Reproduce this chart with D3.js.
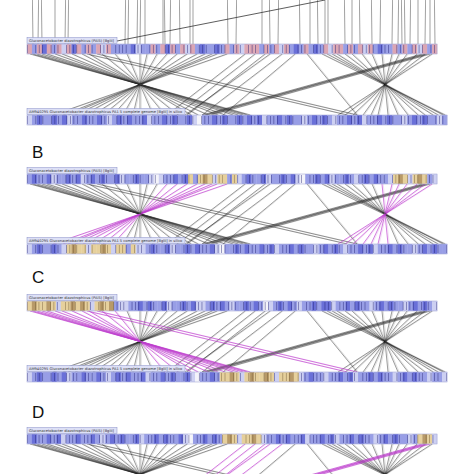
<!DOCTYPE html>
<html><head><meta charset="utf-8">
<script src="https://cdn.jsdelivr.net/npm/d3@7"></script>
<style>body{margin:0;background:#fff}</style></head>
<body><svg id="c" width="474" height="474"></svg>
<script>
const panels = ["A","B","C","D"];
const topLabel = "Gluconacetobacter diazotrophicus (PAl5) [BglII]";
const botLabel = "AM940295 Gluconacetobacter diazotrophicus PA1 5 complete genome [BglII] in silico";
const topLen = 410, botLen = 420;
const stripes = {
  A_top: "pbpBpbplpBpbpbplpbbbbBlbbpbpBpbplpbBbbBbpbplpppbpbplpbBbpbBbplppbpbplpbBbbpbpbplpbp",
  A_bot: "lbBbbBbBlbbBbbBblbBbBbbBlbbBbBbbBlwbbBbBbbBbBbBlbbBbBbblbBbBblbbBbBlbbBbBbblbBbBbblb",
  B_top: "bBbbBlbbBbBlbBbBbbBlbbBbblwlbbBbBtbtTtlttbtlbBbbBlbbBbBlwbbBbBlbbBblbBbBbbltTtltTtbl",
  B_bot: "lbBbbBbltTttlttTtlttbtllbBbbBlbbBbBbbBlwbbBbBbbBbBlbbBbBbblbBbBblbbBbBlbbBbBbblbBbBbb",
  C_top: "tTttTtlttTtTtltTtTbllbbBbBbbBlbbBbBllbBbBblbbBbBbwlbBbBblbbBbBBlbbBbBbblbBbBbblbBbBbl",
  C_bot: "lbBbbBbBlbbBbbBblbBbBbbBlbbBbBbbBlwbbBbttTtltTttTtlttTtlbBbblbbBbBlbbBbBbblbBbBbblbbl",
  D_top: "bBbbBbBlbbBbbBblbBbBbbBlbbBbBbbBlwbbBbBbtTtlttTtlbbBbBbbBlbbBbBlbbBbBbblbBbBbblbtTtl",
  D_bot: "lbBbbBbBlbbBbbBblbBbBbbBlbbBbBbbBlwbbBbBbbBbBbBlbbBbBbblbBbBblbbBbBlbbBbBbblbBbBbblb"
};
const linkTop = [3,6,10,15,20,28,35,45,55,62,75,88,100,120,130,140,150,160,170,178,185,190,200,
  295,300,305,310,318,325,335,345,355,365,372,380,390,398,405,
  395,398,400,403,243,113,60,70,268,280,218,228,238,255];
const linkBot = [223,220,216,211,206,198,191,181,171,164,151,138,126,106,96,86,76,66,56,48,41,36,26,
  418,416,411,406,398,391,381,371,361,351,344,336,326,318,311,
  175,178,180,184,158,113,320,330,196,330,140,150,160,175];
// highlighted links: [topMin, topMax, botMin, botMax]
const highlight = {A:[], B:[[138,202,0,100],[355,410,300,370]], C:[[0,92,0,420]], D:[[213,265,0,420],[394,404,170,190]]};
const aboveX = [6,11,15,28,38,41,98,101,110,113,118,136,138,143,153,163,166,201,209,235,243,251,273,283,291,298,301,318,325,333,345,353,365,371,375,378,383,391,398,403,408];
const layout = {A:{y1:44,y2:115,ly:null,bot:true}, B:{y1:174,y2:244,ly:158,bot:true}, C:{y1:301,y2:372,ly:283,bot:true}, D:{y1:434,y2:505,ly:418,bot:false}};

const colors = {B:"#6a70d8", b:"#989ee6", l:"#cdd0f2", t:"#e6d09c", T:"#b89a68", p:"#dca6b4", w:"#f4f4fa"};
const svg = d3.select("#c");
const xTop = d3.scaleLinear().domain([0, topLen]).range([27, 437]);
const xBot = d3.scaleLinear().domain([0, botLen]).range([27, 447]);
const H = 10;

const g0 = svg.append("g");
aboveX.forEach(p => g0.append("line").attr("x1", xTop(p)).attr("x2", xTop(p)+ (p%3-1)*0.6)
  .attr("y1", 44).attr("y2", 0).attr("stroke", "#222").attr("stroke-width", 0.6).attr("opacity", 0.7));
g0.append("line").attr("x1", xTop(90)).attr("y1", 41).attr("x2", xTop(298)).attr("y2", 0)
  .attr("stroke", "#333").attr("stroke-width", 0.8);

function track(g, key, x, y) {
  const s = stripes[key];
  const band = d3.scaleBand().domain(d3.range(s.length)).range(x.range());
  g.selectAll(null).data(s.split("")).join("rect")
    .attr("x", (d,i) => band(i)).attr("y", y).attr("width", band.bandwidth()+0.3).attr("height", H)
    .attr("fill", d => colors[d]);
  g.selectAll(null).data(s.split("")).join("rect")
    .attr("x", (d,i) => band(i) + band.bandwidth()*((i*37)%10)/10).attr("y", y+1)
    .attr("width", 0.7).attr("height", H-2)
    .attr("fill", d => (d==="t"||d==="T") ? "#6b5530" : "#1a1a70").attr("opacity", 0.6);
  g.append("rect").attr("x", x.range()[0]).attr("y", y).attr("width", x.range()[1]-x.range()[0]).attr("height", H)
    .attr("fill", "none").attr("stroke", "#a8acd8").attr("stroke-width", 0.6);
}
function label(g, text, x, y, w) {
  g.append("rect").attr("x", x).attr("y", y-6.5).attr("width", w).attr("height", 6)
    .attr("fill", "#dde0f6").attr("stroke", "#8890c8").attr("stroke-width", 0.5);
  g.append("text").attr("x", x+2).attr("y", y-2).attr("font-size", 3.6)
    .attr("font-family", "DejaVu Sans").attr("fill", "#333").text(text);
}

panels.forEach(p => {
  const L = layout[p];
  const g = svg.append("g");
  if (L.ly) g.append("text").attr("x", 32).attr("y", L.ly).attr("font-size", 17)
    .attr("font-family", "Liberation Sans").attr("fill", "#111").text(p);
  const hl = (t,b) => highlight[p].some(r => t >= r[0] && t <= r[1] && b >= r[2] && b <= r[3]);
  const links = linkTop.map((t,i) => ({t, b: linkBot[i], h: hl(t, linkBot[i])}));
  links.sort((a,b) => a.h - b.h);
  g.selectAll(null).data(links).join("line")
    .attr("x1", d => xTop(d.t)).attr("y1", L.y1 + H)
    .attr("x2", d => xBot(d.b)).attr("y2", L.y2)
    .attr("stroke", d => d.h ? "#c040d0" : "#111")
    .attr("stroke-width", d => d.h ? 0.9 : 0.6).attr("opacity", d => d.h ? 0.75 : 0.7);
  g.selectAll(null).data(links).join("line")
    .attr("x1", d => xTop(d.t)+1.2).attr("y1", L.y1 + H)
    .attr("x2", d => xBot(d.b)+1.2).attr("y2", L.y2)
    .attr("stroke", d => d.h ? "#c040d0" : "#444")
    .attr("stroke-width", 0.4).attr("opacity", 0.4);
  track(g, p+"_top", xTop, L.y1);
  label(g, topLabel, 27, L.y1, 90);
  if (L.bot) {
    track(g, p+"_bot", xBot, L.y2);
    label(g, botLabel, 27, L.y2, 158);
  }
});
</script></body></html>
